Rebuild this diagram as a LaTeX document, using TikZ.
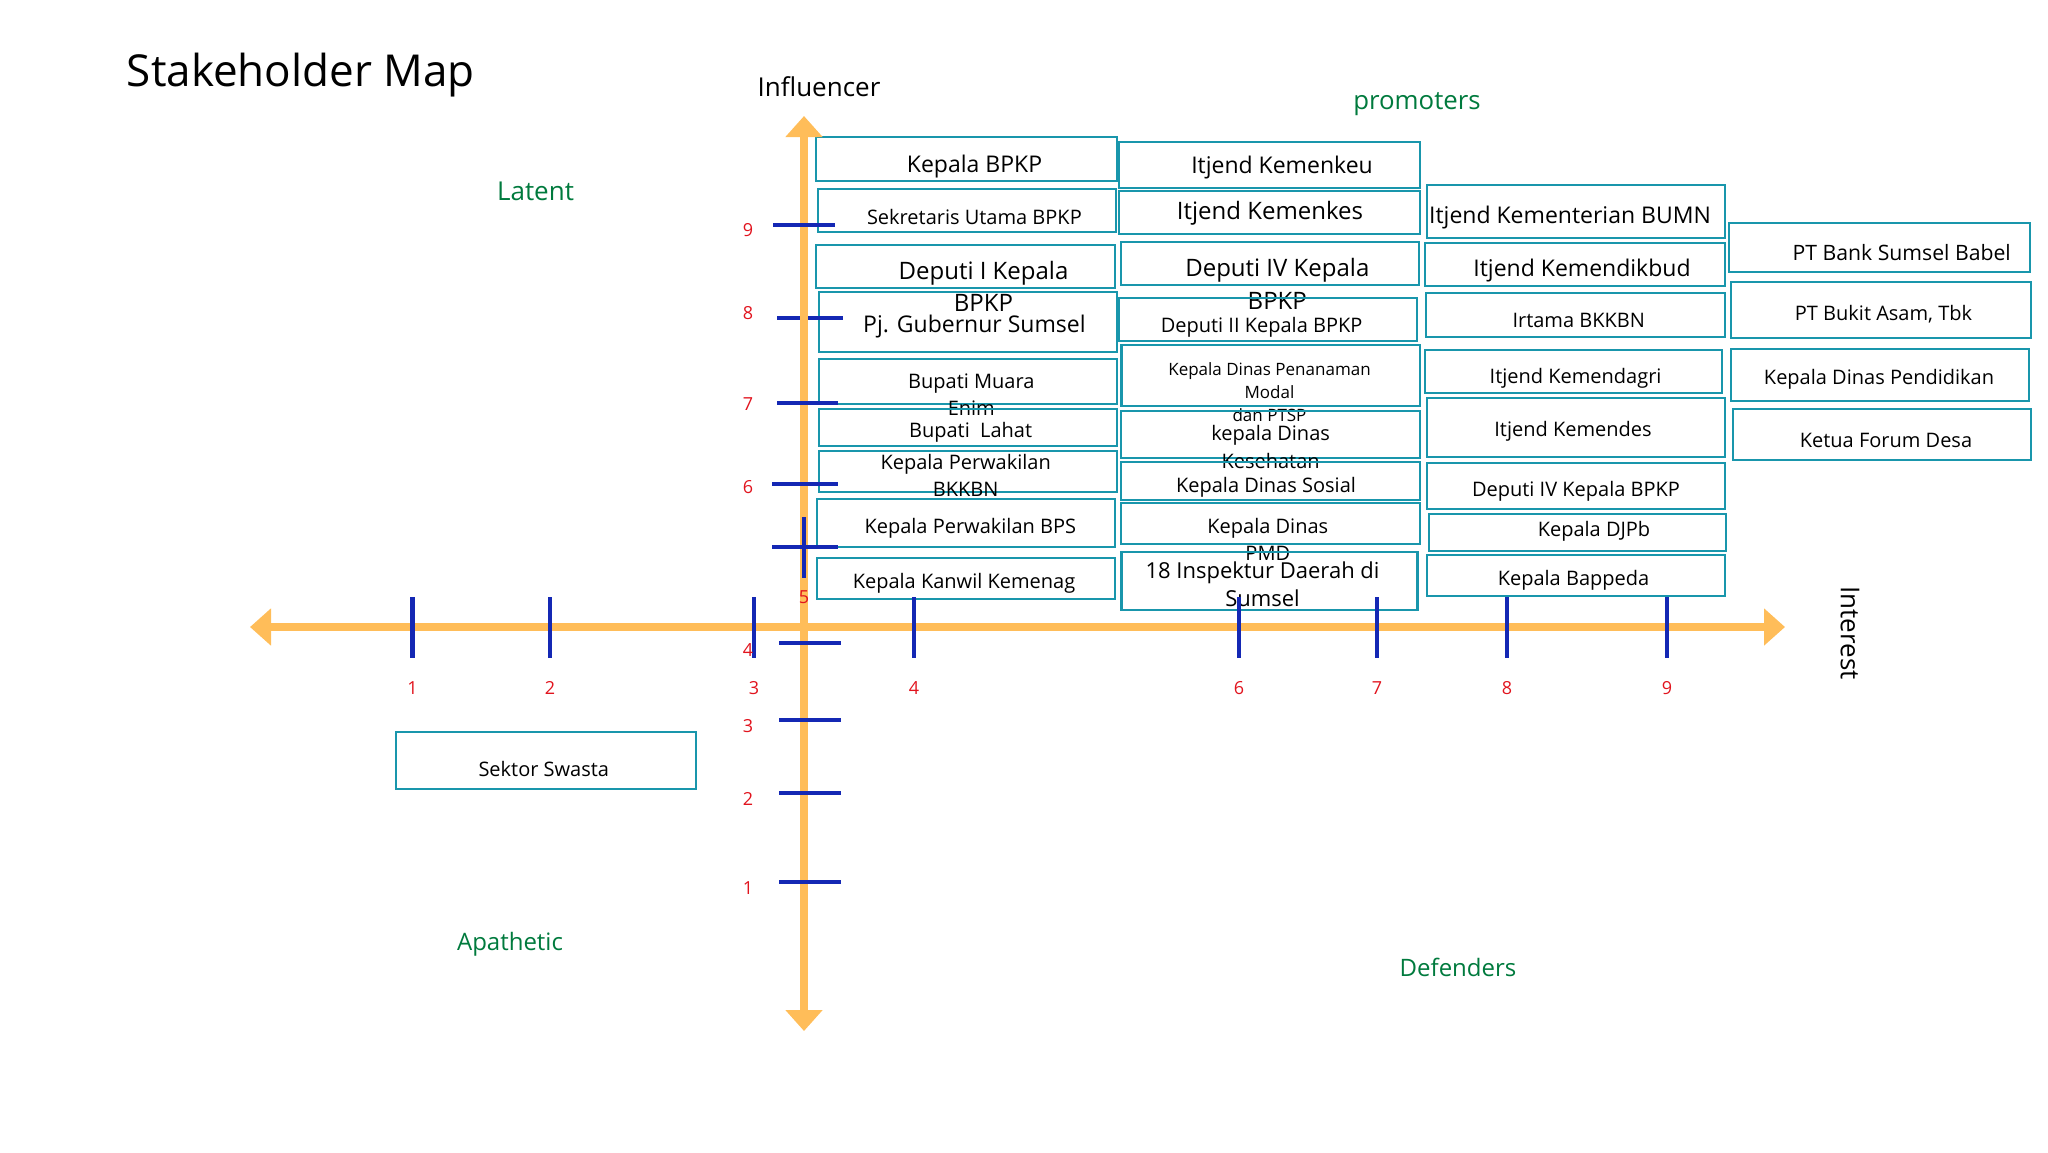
\documentclass[tikz,border=0pt]{standalone}
\usepackage{fontspec}
\setmainfont{Open Sans}
\usetikzlibrary{arrows.meta}
\definecolor{boxteal}{RGB}{25,150,172}
\definecolor{axisorange}{RGB}{255,189,89}
\definecolor{tickblue}{RGB}{20,40,180}
\definecolor{numred}{RGB}{225,20,30}
\definecolor{quadgreen}{RGB}{0,122,61}
\tikzset{
	sbox/.style={draw=boxteal, line width=1.2pt, inner sep=0pt, outer sep=0pt},
	btxt/.style={align=center, anchor=base, inner sep=0pt, font=\fontsize{10}{13.6}\selectfont},
	axisline/.style={draw=axisorange, line width=3.8pt, {Triangle[length=10.5pt,width=18pt]}-{Triangle[length=10.5pt,width=18pt]}},
	tickmark/.style={draw=tickblue, line width=2.4pt},
	num/.style={text=numred, inner sep=0pt, font=\fontsize{9}{11}\selectfont},
	quad/.style={text=quadgreen, inner sep=0pt, anchor=base, font=\fontsize{12.5}{15}\selectfont},
	axlabel/.style={inner sep=0pt, font=\fontsize{13}{15}\selectfont}
}

\begin{document}
\begin{tikzpicture}[x=0.5pt, y=-0.5pt]
	\useasboundingbox (0,0) rectangle (2048,1152);

	\node[anchor=base west, inner sep=0pt, font=\fontsize{22}{26}\selectfont] (title) at (126.5,86.7) {Stakeholder Map};
	\node[axlabel, anchor=base] (ylab) at (819,96) {Influencer};
	\node[axlabel, rotate=-90] (xlab) at (1850,633) {Interest};
	\node[quad, font=\fontsize{13}{15}\selectfont] (latent) at (535.5,200.7) {Latent};
	\node[quad, font=\fontsize{12.9}{15}\selectfont] (promoters) at (1417,109.3) {promoters};
	\node[quad, font=\fontsize{12}{15}\selectfont] (apathetic) at (510,950) {Apathetic};
	\node[quad, font=\fontsize{12}{15}\selectfont] (defenders) at (1458,976) {Defenders};

	% column 1 (multi-line texts sit on their last line)
	\node[sbox, minimum width=150.5pt, minimum height=22pt] (kbpkp) at (966.5,159) {};
	\node[btxt, font=\fontsize{11.5}{15.6}\selectfont] (tkbpkp) at (974.5,172.7) {Kepala BPKP};
	\node[sbox, minimum width=149pt, minimum height=21.5pt] (sestama) at (967,210.5) {};
	\node[btxt] (tsestama) at (974.4,224.3) {Sekretaris Utama BPKP};
	\node[sbox, minimum width=149.5pt, minimum height=21.5pt] (deputi1) at (965.5,266.5) {};
	\node[btxt, font=\fontsize{12}{16.2}\selectfont] (tdeputi1) at (983.5,311.7) {Deputi I Kepala\\BPKP};
	\node[sbox, minimum width=149pt, minimum height=30pt] (gubernur) at (968,322) {};
	\node[btxt, font=\fontsize{11.5}{15.6}\selectfont] (tgubernur) at (974.4,332.3) {Pj. Gubernur Sumsel};
	\node[sbox, minimum width=149pt, minimum height=22.5pt] (muaraenim) at (968,381.5) {};
	\node[btxt, font=\fontsize{10}{13.35}\selectfont] (tmuaraenim) at (971.3,415) {Bupati Muara\\Enim};
	\node[sbox, minimum width=149pt, minimum height=18.5pt] (lahat) at (968,427.5) {};
	\node[btxt] (tlahat) at (970.6,437.3) {Bupati\ \ Lahat};
	\node[sbox, minimum width=149pt, minimum height=20.5pt] (bkkbn) at (968,471.5) {};
	\node[btxt, font=\fontsize{10}{13.7}\selectfont] (tbkkbn) at (965.7,496.7) {Kepala Perwakilan\\BKKBN};
	\node[sbox, minimum width=149pt, minimum height=24pt] (bps) at (965.7,523) {};
	\node[btxt] (tbps) at (970.3,533.3) {Kepala Perwakilan BPS};
	\node[sbox, minimum width=149pt, minimum height=20.5pt] (kemenag) at (966,578.5) {};
	\node[btxt] (tkemenag) at (964,588.3) {Kepala Kanwil Kemenag};

	% column 2
	\node[sbox, minimum width=150.5pt, minimum height=23pt] (kemenkeu) at (1269.5,165) {};
	\node[btxt, font=\fontsize{11.5}{15.6}\selectfont] (tkemenkeu) at (1282,173.3) {Itjend Kemenkeu};
	\node[sbox, minimum width=150.5pt, minimum height=21.5pt] (kemenkes) at (1269.5,212.5) {};
	\node[btxt, font=\fontsize{12}{16.2}\selectfont] (tkemenkes) at (1270,219.3) {Itjend Kemenkes};
	\node[sbox, minimum width=149.2pt, minimum height=21.5pt] (deputi4a) at (1270,263.5) {};
	\node[btxt, font=\fontsize{12}{16.3}\selectfont] (tdeputi4a) at (1277.3,309.3) {Deputi IV Kepala\\BPKP};
	\node[sbox, minimum width=149pt, minimum height=21.5pt] (deputi2) at (1268,319.5) {};
	\node[btxt] (tdeputi2) at (1261.6,332.3) {Deputi II Kepala BPKP};
	\node[sbox, minimum width=149.25pt, minimum height=30.5pt] (dpmptsp) at (1270.7,375.5) {};
	\node[btxt, font=\fontsize{8.5}{11.65}\selectfont] (tdpmptsp) at (1269.5,421.6) {Kepala Dinas Penanaman\\Modal\\dan PTSP};
	\node[sbox, minimum width=149.5pt, minimum height=23.5pt] (dinkes) at (1270.5,434.5) {};
	\node[btxt, font=\fontsize{10}{14.15}\selectfont] (tdinkes) at (1270.6,468.3) {kepala Dinas\\Kesehatan};
	\node[sbox, minimum width=149.5pt, minimum height=19pt] (dinsos) at (1270.5,481) {};
	\node[btxt] (tdinsos) at (1266,492.7) {Kepala Dinas Sosial};
	\node[sbox, minimum width=149.5pt, minimum height=20.5pt] (dinpmd) at (1270.5,523.5) {};
	\node[btxt, font=\fontsize{10}{13.35}\selectfont] (tdinpmd) at (1267.8,560) {Kepala Dinas\\PMD};
	\node[sbox, minimum width=148pt, minimum height=29pt] (inspektur) at (1269.5,581) {};
	\node[btxt, font=\fontsize{11}{14.2}\selectfont] (tinspektur) at (1262.5,606.7) {18 Inspektur Daerah di\\Sumsel};

	% column 3
	\node[sbox, minimum width=149pt, minimum height=26.5pt] (bumn) at (1576,211.5) {};
	\node[btxt, font=\fontsize{11.5}{15.6}\selectfont] (tbumn) at (1570,223.3) {Itjend Kementerian BUMN};
	\node[sbox, minimum width=150pt, minimum height=21.5pt] (kemendikbud) at (1575,264.5) {};
	\node[btxt, font=\fontsize{11.5}{15.6}\selectfont] (tkemendikbud) at (1582,276.7) {Itjend Kemendikbud};
	\node[sbox, minimum width=149.5pt, minimum height=22pt] (irtama) at (1575.5,315) {};
	\node[btxt] (tirtama) at (1578.7,327.3) {Irtama BKKBN};
	\node[sbox, minimum width=148.5pt, minimum height=21.5pt] (kemendagri) at (1573.5,371.5) {};
	\node[btxt] (tkemendagri) at (1575.6,383.3) {Itjend Kemendagri};
	\node[sbox, minimum width=149pt, minimum height=29.5pt] (kemendes) at (1576,427.5) {};
	\node[btxt] (tkemendes) at (1573,436.7) {Itjend Kemendes};
	\node[sbox, minimum width=149pt, minimum height=23pt] (deputi4b) at (1576,486) {};
	\node[btxt] (tdeputi4b) at (1576,496.7) {Deputi IV Kepala BPKP};
	\node[sbox, minimum width=148.5pt, minimum height=18.5pt] (djpb) at (1577.5,532.5) {};
	\node[btxt] (tdjpb) at (1594,536.7) {Kepala DJPb};
	\node[sbox, minimum width=149pt, minimum height=20.5pt] (bappeda) at (1576,575.5) {};
	\node[btxt] (tbappeda) at (1573.5,585) {Kepala Bappeda};

	% column 4
	\node[sbox, minimum width=150.5pt, minimum height=24.5pt] (banksumsel) at (1879.5,247.5) {};
	\node[btxt, font=\fontsize{10.6}{14.4}\selectfont] (tbanksumsel) at (1901.7,260.7) {PT Bank Sumsel Babel};
	\node[sbox, minimum width=150pt, minimum height=28pt] (bukitasam) at (1881,310) {};
	\node[btxt] (tbukitasam) at (1883.5,320.7) {PT Bukit Asam, Tbk};
	\node[sbox, minimum width=149pt, minimum height=26pt] (disdik) at (1880,375) {};
	\node[btxt] (tdisdik) at (1879,384.3) {Kepala Dinas Pendidikan};
	\node[sbox, minimum width=149pt, minimum height=25.5pt] (forumdesa) at (1882,434.5) {};
	\node[btxt] (tforumdesa) at (1886,447.3) {Ketua Forum Desa};

	% lower left
	\node[sbox, minimum width=149.75pt, minimum height=28.5pt] (swasta) at (546,760.5) {};
	\node[btxt] (tswasta) at (543.8,776.7) {Sektor Swasta};

	% axes
	\coordinate (ytop) at (804,116);
	\coordinate (ybot) at (804,1031);
	\coordinate (xleft) at (250,627);
	\coordinate (xright) at (1785,627);
	\draw[tickmark] (777,318) -- (843,318);
	\draw[axisline] (ybot) -- (ytop);
	\draw[axisline] (xleft) -- (xright);

	% ticks and scale numbers
	\foreach \tx/\tn in {412.5/1, 550/2, 754/3, 914/4, 1239/6, 1377/7, 1507/8, 1667/9} {
		\draw[tickmark] (\tx,597) -- (\tx,658);
		\node[num] (xn\tn) at (\tx,688) {\tn};
	}
	\foreach \ty/\tl/\tr in {225/773/835, 403/777/838, 484/772/838, 547/772/838, 643/779/841, 720/779/841, 793/779/841, 882/779/841}
		\draw[tickmark] (\tl,\ty) -- (\tr,\ty);
	\draw[tickmark] (804,517) -- (804,578);
	\foreach \ty/\tn in {230/9, 313/8, 404/7, 487/6, 650/4, 726/3, 799/2, 888/1}
		\node[num] (yn\tn) at (748,\ty) {\tn};
	\node[num] (yn5) at (804,597) {5};
\end{tikzpicture}
\end{document}
